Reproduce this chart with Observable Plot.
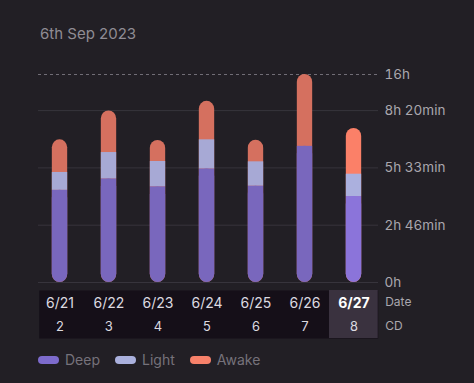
<!DOCTYPE html>
<html><head><meta charset="utf-8">
<script src="https://cdn.jsdelivr.net/npm/d3@7"></script>
<script src="https://cdn.jsdelivr.net/npm/@observablehq/plot@0.6"></script>
<style>
html,body{margin:0;padding:0;background:#221f25;width:474px;height:383px;overflow:hidden;font-family:Inter,"Noto Sans",sans-serif;}
#title{height:60px;box-sizing:border-box;padding:25px 0 0 40px;color:#8f8c94;font-size:15px;line-height:18px;}
#chart svg,#table svg{display:block;}
#legend{height:43px;box-sizing:border-box;padding:11px 0 0 38px;display:flex;align-items:flex-start;}
.item{display:flex;align-items:center;margin-right:15px;color:#76727b;font-size:14px;line-height:18px;}
.sw{width:21px;height:8px;border-radius:4px;margin-right:6px;}
</style></head><body>
<div id="title">6th Sep 2023</div>
<div id="chart"></div>
<div id="table"></div>
<div id="legend"></div>
<script>
// ---- data ----
const dates = ["6/21","6/22","6/23","6/24","6/25","6/26","6/27"];
const cd = [2,3,4,5,6,7,8];
const deep = [268,301,278,330,280,396,250];   // minutes
const light = [52,77,74,85,71,0,65];
const awake = [95,121,61,112,63,209,133];
const tickValues = [0,166.67,333.33,500];
const tickLabels = ["0h","2h 46min","5h 33min","8h 20min"];
const topLabel = "16h";
const selected = "6/27";
const legendLabels = ["Deep","Light","Awake"];
const rowLabels = ["Date","CD"];

// ---- styles ----
const C = {
  deep:"#7967bd", light:"#a7a9d5", awake:"#d5705f",
  deepSel:"#8b74da", lightSel:"#abb0de", awakeSel:"#fb8068"
};
const legendColors = ["#7d6bcc","#aab0dd","#f7816a"];

const rows = dates.map((d,i)=>({
  date:d, cd:cd[i], deep:deep[i], light:light[i], awake:awake[i],
  l1:deep[i]+light[i], total:deep[i]+light[i]+awake[i], sel:d===selected
}));
const maxTotal = d3.max(rows, r=>r.total);
const labelMap = new Map(tickValues.map((v,i)=>[v,tickLabels[i]]));
labelMap.set(maxTotal, topLabel);

const W = 474;
const xRange = [32.5, 380];
const barW = 16;
const step = (xRange[1]-xRange[0])/dates.length;
const ins = (step-barW)/2;
const R = barW/2;
const font = "Inter, 'Noto Sans', sans-serif";

const chart = Plot.plot({
  width: W, height: 228, marginTop: 14, marginBottom: 6, marginLeft: 38, marginRight: 96,
  style: {background:"transparent", color:"#a9a6ad", fontSize:"13.5px", fontFamily:font, overflow:"visible"},
  x: {type:"band", domain:dates, range:xRange, padding:0, axis:null},
  y: {domain:[0,maxTotal], axis:null},
  color: {type:"identity"},
  marks: [
    Plot.ruleY(tickValues, {stroke:"#37343c", strokeWidth:1}),
    Plot.ruleY([maxTotal], {stroke:"#716d76", strokeDasharray:"3,3"}),
    Plot.axisY({anchor:"right", ticks:[...tickValues, maxTotal], tickFormat:d=>labelMap.get(d),
      tickSize:0, tickPadding:6, fill:"#aaa7ae", fontSize:13.5}),
    // full pill in awake colour
    Plot.barY(rows, {x:"date", y1:0, y2:"total", fill:r=>r.sel?C.awakeSel:C.awake,
      insetLeft:ins, insetRight:ins, rx:R, ry:R}),
    // light segment (square)
    Plot.barY(rows.filter(r=>r.light>0), {x:"date", y1:"deep", y2:"l1", fill:r=>r.sel?C.lightSel:C.light,
      insetLeft:ins, insetRight:ins}),
    // deep segment: rounded bottom, squared top
    Plot.barY(rows, {x:"date", y1:0, y2:"deep", fill:r=>r.sel?C.deepSel:C.deep,
      insetLeft:ins, insetRight:ins, rx:R, ry:R}),
    Plot.barY(rows, {x:"date", y1:0, y2:"deep", fill:r=>r.sel?C.deepSel:C.deep,
      insetLeft:ins, insetRight:ins, insetBottom:R})
  ]
});
document.getElementById("chart").append(chart);

const table = Plot.plot({
  width: W, height: 52, marginTop: 2, marginBottom: 2, marginLeft: 38.7, marginRight: 96.3,
  style: {background:"transparent", color:"#a9a6ad", fontSize:"12px", fontFamily:font},
  x: {type:"band", domain:dates, range:xRange, padding:0, axis:null},
  y: {type:"band", domain:rowLabels, padding:0},
  marks: [
    Plot.frame({fill:"#150f18", stroke:"none"}),
    Plot.cell(rows.filter(r=>r.sel), {x:"date", fill:"#3a323f", clip:true}),
    Plot.axisY({anchor:"right", tickSize:0, tickPadding:7, fill:"#aaa7ae", fontSize:12}),
    Plot.text(rows.filter(r=>!r.sel), {x:"date", y:()=>rowLabels[0], text:"date", fill:"#dcdae0", fontSize:14, dy:1}),
    Plot.text(rows.filter(r=>r.sel), {x:"date", y:()=>rowLabels[0], text:"date", fill:"#ffffff", fontSize:14, fontWeight:"bold", dy:1}),
    Plot.text(rows, {x:"date", y:()=>rowLabels[1], text:"cd", fill:"#dcdae0", fontSize:13})
  ]
});
document.getElementById("table").append(table);

const lg = document.getElementById("legend");
legendLabels.forEach((l,i)=>{
  const it = document.createElement("div"); it.className="item";
  const sw = document.createElement("div"); sw.className="sw"; sw.style.background=legendColors[i];
  const tx = document.createElement("span"); tx.textContent=l;
  it.append(sw,tx); lg.append(it);
});
</script>
</body></html>
